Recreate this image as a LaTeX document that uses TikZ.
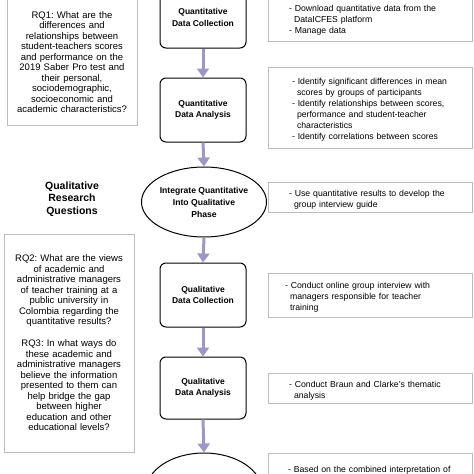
\documentclass[tikz,border=0pt]{standalone}
\usepackage{fontspec}
\setmainfont{Liberation Sans}
\usetikzlibrary{arrows.meta,shapes.geometric}
\definecolor{arr}{RGB}{160,150,196}
\definecolor{bgr}{RGB}{188,188,188}
\frenchspacing
\newcommand\itm[1]{\par\hangindent=5pt\hangafter=1 -\ #1}
\newcommand\rtxt[1]{\raggedright\leftskip=#1pt\parindent=0pt}
\tikzset{
  lbox/.style={draw=bgr, line width=0.9pt, text width=124pt, inner xsep=3pt, inner ysep=0pt, align=center, font=\fontsize{9.5}{10.5}\selectfont},
  cbox/.style={draw, rounded corners=6pt, line width=1pt, minimum width=86pt, inner sep=0pt, align=center, font=\bfseries\fontsize{8.5}{11.5}\selectfont},
  ell/.style={draw, ellipse, line width=1pt, inner sep=0pt, align=center, font=\bfseries\fontsize{8.6}{12}\selectfont},
  rbox/.style={draw=bgr, line width=0.9pt, text width=190pt, inner xsep=7pt, inner ysep=0pt, font=\fontsize{8.7}{11}\selectfont},
  head/.style={align=center, font=\bfseries\fontsize{10.5}{12.5}\selectfont},
  flow/.style={draw=arr, line width=3pt, -{Triangle[length=9pt,width=12pt]}}
}
\begin{document}
\begin{tikzpicture}[x=1pt,y=-1pt]
\useasboundingbox (0,0) rectangle (474,474);
\clip (0,0) rectangle (474,474);
% left column
\node[lbox, minimum height=126pt] (rq1) at (72,62) {RQ1: What are the\\ differences and\\ relationships between\\ student-teachers scores\\ and performance on the\\ 2019 Saber Pro test and\\ their personal,\\ sociodemographic,\\ socioeconomic and\\ academic characteristics?};
\node[head] (qrq) at (72,199) {Qualitative\\ Research\\ Questions};
\node[lbox, minimum height=218pt] (rq23) at (69,343) {RQ2: What are the views\\ of academic and\\ administrative managers\\ of teacher training at a\\ public university in\\ Colombia regarding the\\ quantitative results?\\[11.5pt] RQ3: In what ways do\\ these academic and\\ administrative managers\\ believe the information\\ presented to them can\\ help bridge the gap\\ between higher\\ education and other\\ educational levels?};
% centre column
\node[cbox, minimum height=61pt] (qdc) at (203,17.5) {Quantitative\\ Data Collection};
\node[cbox, minimum height=64pt] (qda) at (203,110) {Quantitative\\ Data Analysis};
\node[ell, minimum width=106pt, minimum height=70pt] (int) at (204,202) {Integrate Quantitative\\ Into Qualitative\\ Phase};
\node[cbox, minimum height=64pt] (qlc) at (203,295) {Qualitative\\ Data Collection};
\node[cbox, minimum height=62pt] (qla) at (203,388) {Qualitative\\ Data Analysis};
\node[ell, minimum width=116pt, minimum height=76pt] (fin) at (204,491) {};
\draw[flow] (qdc.south) -- (qda.north);
\draw[flow] (qda.south) -- (int.north);
\draw[flow] (int.south) -- (qlc.north);
\draw[flow] (qlc.south) -- (qla.north);
\draw[flow] (qla.south) -- (fin.north);
% right column
\node[rbox, minimum height=47pt] (rb1) at (370,17.5) {\rtxt{14}\itm{Download quantitative data from the\newline DataICFES platform}\itm{Manage data}\par};
\node[rbox, minimum height=81pt] (rb2) at (370,107.5) {\rtxt{17}\itm{Identify significant differences in mean\newline scores by groups of participants}\itm{Identify relationships between scores,\newline performance and student-teacher\newline characteristics}\itm{Identify correlations between scores}\par};
\node[rbox, minimum height=30pt] (rb3) at (370,197) {\rtxt{14}\itm{Use quantitative results to develop the\newline group interview guide}\par};
\node[rbox, minimum height=44pt] (rb4) at (370,295) {\rtxt{10}\itm{Conduct online group interview with\newline managers responsible for teacher\newline training}\par};
\node[rbox, minimum height=30pt] (rb5) at (370,388) {\rtxt{14}\itm{Conduct Braun and Clarke's thematic\newline analysis}\par};
\node[rbox, minimum height=30pt] (rb6) at (370,468) {\rtxt{13}\itm{Based on the combined interpretation of}\par};
\end{tikzpicture}
\end{document}
